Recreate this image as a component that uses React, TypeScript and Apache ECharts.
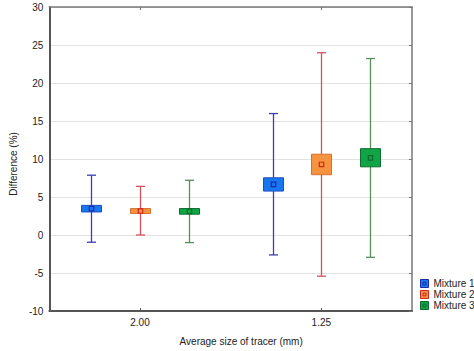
import React, { useEffect, useRef } from "react";
import * as echarts from "echarts";

// Tracer size groups on the x axis
const categories = ["2.00", "1.25"];

// Each row: [whisker low, box low, centre, box high, whisker high] per category
const mixture1 = [
  [-0.95, 3.03, 3.47, 3.9, 7.87],
  [-2.62, 5.78, 6.66, 7.53, 15.98],
];
const mixture2 = [
  [0.0, 2.83, 3.15, 3.48, 6.4],
  [-5.42, 7.93, 9.28, 10.63, 23.98],
];
const mixture3 = [
  [-1.0, 2.74, 3.1, 3.48, 7.2],
  [-2.94, 8.97, 10.15, 11.36, 23.22],
];

const seriesNames = ["Mixture 1", "Mixture 2", "Mixture 3"];

const yTicks = { min: -10, max: 30, step: 5 };

const palette = [
  { fill: "#1877ee", border: "#1d4fc4", whisker: "#3d3db4", mark: "#1a2aa8" },
  { fill: "#f7933f", border: "#d8702f", whisker: "#d4505c", mark: "#c8281e" },
  { fill: "#11a548", border: "#0e6e2f", whisker: "#5a8e5a", mark: "#0b6a2a" },
];

// horizontal shift of each mixture inside a category band (fraction of band width)
const bandOffsets = [-0.268, 0, 0.268];

const FONT = "'Liberation Sans', Arial, sans-serif";

function makeRenderItem(idx: number) {
  const c = palette[idx];
  return (params: any, api: any) => {
    const cat = api.value(0);
    const low = api.value(1);
    const boxLow = api.value(2);
    const mid = api.value(3);
    const boxHigh = api.value(4);
    const high = api.value(5);
    const band = api.size([1, 0])[0];
    const dx = bandOffsets[idx] * band;
    const pLow = api.coord([cat, low]);
    const pHigh = api.coord([cat, high]);
    const pBL = api.coord([cat, boxLow]);
    const pBH = api.coord([cat, boxHigh]);
    const pMid = api.coord([cat, mid]);
    const x = Math.round(pLow[0] + dx) + 0.5;
    const cap = 4.5;
    const boxW = 20;
    const m = 2.2;
    const wStyle = { stroke: c.whisker, lineWidth: 1.3, fill: "none" };
    return {
      type: "group",
      children: [
        { type: "line", shape: { x1: x, y1: pLow[1], x2: x, y2: pHigh[1] }, style: wStyle },
        { type: "line", shape: { x1: x - cap, y1: pLow[1], x2: x + cap, y2: pLow[1] }, style: wStyle },
        { type: "line", shape: { x1: x - cap, y1: pHigh[1], x2: x + cap, y2: pHigh[1] }, style: wStyle },
        {
          type: "rect",
          shape: { x: x - boxW / 2, y: pBH[1], width: boxW, height: pBL[1] - pBH[1] },
          style: { fill: c.fill, stroke: c.border, lineWidth: 1 },
        },
        {
          type: "rect",
          shape: { x: x - m, y: pMid[1] - m, width: 2 * m, height: 2 * m },
          style: { fill: c.fill, stroke: c.mark, lineWidth: 1.2 },
        },
      ],
    };
  };
}

export default function App() {
  const ref = useRef<HTMLDivElement>(null);

  useEffect(() => {
    document.body.style.margin = "0";
    if (!ref.current) return;
    const chart = echarts.init(ref.current, null, { renderer: "svg" });
    const groups = [mixture1, mixture2, mixture3];

    const legendIcon = "path://M0,0H10V10H0Z M3.2,3.2H6.8V6.8H3.2Z";

    chart.setOption({
      animation: false,
      backgroundColor: "#ffffff",
      textStyle: { fontFamily: FONT },
      grid: { left: 40, right: 62, top: 7, bottom: 39, containLabel: false },
      legend: {
        orient: "vertical",
        left: 420,
        top: 278,
        itemWidth: 8,
        itemHeight: 8,
        itemGap: 0,
        padding: 0,
        textStyle: { fontFamily: FONT, fontSize: 10, color: "#222", lineHeight: 11 },
        data: seriesNames.map((name, i) => ({
          name,
          icon: legendIcon,
          itemStyle: { color: palette[i].fill, borderColor: palette[i].mark, borderWidth: 1 },
        })),
      },
      xAxis: [
        {
          type: "category",
          data: categories,
          position: "bottom",
          name: "Average size of tracer (mm)",
          nameLocation: "middle",
          nameGap: 25,
          nameTextStyle: { fontFamily: FONT, fontSize: 10, color: "#222", padding: [0, 0, 0, 21] },
          axisLine: { show: true, onZero: false, lineStyle: { color: "#555", width: 2 } },
          axisTick: { show: true, inside: true, alignWithLabel: true, length: 3, lineStyle: { color: "#555" } },
          axisLabel: { fontFamily: FONT, fontSize: 10, color: "#222", margin: 6 },
          splitLine: { show: false },
        },
        {
          type: "category",
          data: categories,
          position: "top",
          axisLine: { show: true, onZero: false, lineStyle: { color: "#777", width: 1.5 } },
          axisTick: { show: true, inside: true, alignWithLabel: true, length: 3, lineStyle: { color: "#777" } },
          axisLabel: { show: false },
          splitLine: { show: false },
        },
      ],
      yAxis: [
        {
          type: "value",
          min: yTicks.min,
          max: yTicks.max,
          interval: yTicks.step,
          position: "left",
          name: "Difference (%)",
          nameLocation: "middle",
          nameGap: 30,
          nameRotate: 90,
          nameTextStyle: { fontFamily: FONT, fontSize: 10, color: "#222", padding: [0, 10, 0, 0] },
          axisLine: { show: true, onZero: false, lineStyle: { color: "#555", width: 2 } },
          axisTick: { show: false },
          axisLabel: { fontFamily: FONT, fontSize: 10, color: "#222", margin: 6 },
          splitLine: { show: true, lineStyle: { color: "#e2e2e2", width: 1.2 } },
        },
        {
          type: "value",
          min: yTicks.min,
          max: yTicks.max,
          interval: yTicks.step,
          position: "right",
          axisLine: { show: true, onZero: false, lineStyle: { color: "#777", width: 1.5 } },
          axisTick: { show: true, inside: true, length: 3, lineStyle: { color: "#777" } },
          axisLabel: { show: false },
          splitLine: { show: false },
        },
      ],
      series: groups.map((rows, i) => ({
        type: "custom",
        name: seriesNames[i],
        xAxisIndex: 0,
        yAxisIndex: 0,
        itemStyle: { color: palette[i].fill, borderColor: palette[i].mark },
        renderItem: makeRenderItem(i),
        encode: { x: 0, y: [1, 2, 3, 4, 5] },
        data: rows.map((r, ci) => [ci, ...r]),
        z: 3,
      })),
    });

    return () => chart.dispose();
  }, []);

  return <div ref={ref} style={{ width: 474, height: 351 }} />;
}
